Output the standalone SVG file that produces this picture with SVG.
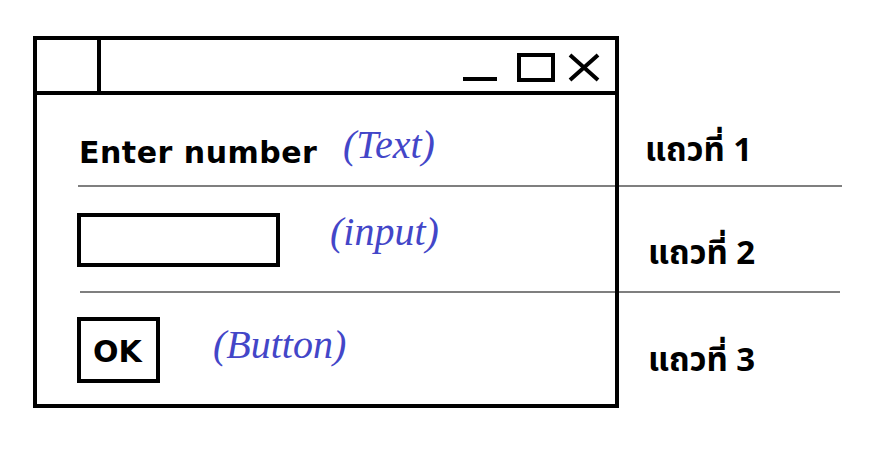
<svg xmlns="http://www.w3.org/2000/svg" width="885" height="470" viewBox="0 0 885 470">
<style>
.k{fill:none;stroke:#000;stroke-width:4}
.t{stroke:#000;stroke-width:1.2}
.b{font-family:"DejaVu Sans","Noto Sans",sans-serif;font-weight:bold;font-size:30px;fill:#000}
.th{font-family:"Noto Sans Thai","Noto Sans","DejaVu Sans",sans-serif;font-weight:bold;font-size:33px;fill:#000}
.h{font-family:"Liberation Serif",serif;font-style:italic;font-size:40px;fill:#4346c8}
</style>
<rect fill="#fff" width="885" height="470"/>
<g id="window">
<rect class="k" x="35" y="38" width="582" height="368"/>
<line class="k" x1="35" y1="93" x2="617" y2="93"/>
<line class="k" x1="99" y1="38" x2="99" y2="93"/>
<line class="k" x1="463" y1="79" x2="497" y2="79"/>
<rect class="k" x="519" y="55" width="34" height="25"/>
<path class="k" d="M570 55L598 80M598 55L570 80"/>
</g>
<g id="rows">
<line class="t" x1="78" y1="186" x2="842" y2="186"/>
<line class="t" x1="80" y1="292" x2="840" y2="292"/>
</g>
<g id="row1">
<text class="b" x="79" y="163" letter-spacing="0.5">Enter number</text>
<text class="h" x="343" y="158">(Text)</text>
<text class="th" x="645" y="161">แถวที่ 1</text>
</g>
<g id="row2">
<rect class="k" x="79" y="215" width="199" height="50"/>
<text class="h" x="330" y="245">(input)</text>
<text class="th" x="648" y="264">แถวที่ 2</text>
</g>
<g id="row3">
<rect class="k" x="79" y="319" width="79" height="62"/>
<text class="b" x="93" y="362">OK</text>
<text class="h" x="213" y="358">(Button)</text>
<text class="th" x="648" y="371">แถวที่ 3</text>
</g>
</svg>
